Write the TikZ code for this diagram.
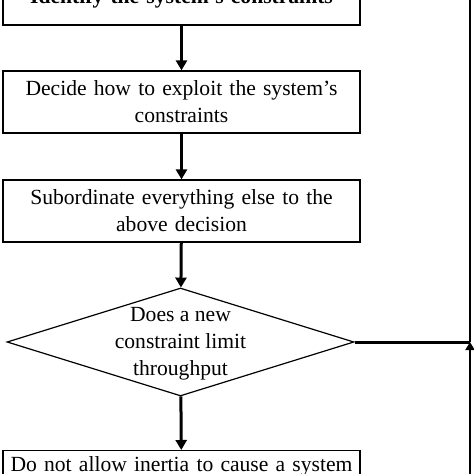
\documentclass[tikz,border=0pt]{standalone}
\usepackage{fontspec}
\setmainfont{Liberation Serif}
\usetikzlibrary{shapes.geometric,arrows.meta}
\begin{document}
\begin{tikzpicture}[x=1pt,y=-1pt,
  txt/.style={font=\fontsize{21.6}{27}\selectfont},
  box/.style={txt, draw, line width=1.2pt, minimum width=357pt, minimum height=62pt,
    inner sep=0pt, text width=352pt, align=center},
  decision/.style={draw, diamond, line width=1.2pt, minimum width=347pt,
    minimum height=108pt, inner sep=0pt},
  flow/.style={line width=3pt, -{Triangle[width=11pt,length=10pt]}},
  loopline/.style={line width=2pt},
  looparrow/.style={line width=2pt, -{Triangle[width=9pt,length=8pt]}}]
\useasboundingbox (0,0) rectangle (474,474);
\clip (0,0) rectangle (474,474);
\node[box, minimum height=54pt] (identify) at (181.5,-2) {\bfseries Identify the system’s constraints};
\node[box] (exploit) at (181.5,102) {Decide how to exploit the system’s\\constraints};
\node[box] (subord) at (181.5,211) {Subordinate everything else to the\\above decision};
\node[decision] (new) at (180.5,342) {};
\node[txt, align=center, inner sep=0pt] (newtext) at (180.5,344) {Does a new\\constraint limit\\throughput};
\node[box, anchor=north] (inertia) at (181.5,450) {\mbox{Do not allow inertia to cause a system}\\\strut};
\draw[flow] (identify) -- (exploit);
\draw[flow] (exploit) -- (subord);
\draw[flow] (subord) -- (new);
\draw[flow] (new) -- (inertia);
\coordinate (join) at (470,342);
\coordinate (topend) at (470,-10);
\coordinate (botend) at (470,490);
\draw[line width=3pt] (new.east) -- (join);
\draw[looparrow] (botend) -- (join);
\draw[loopline] (join) -- (topend);
\end{tikzpicture}
\end{document}
